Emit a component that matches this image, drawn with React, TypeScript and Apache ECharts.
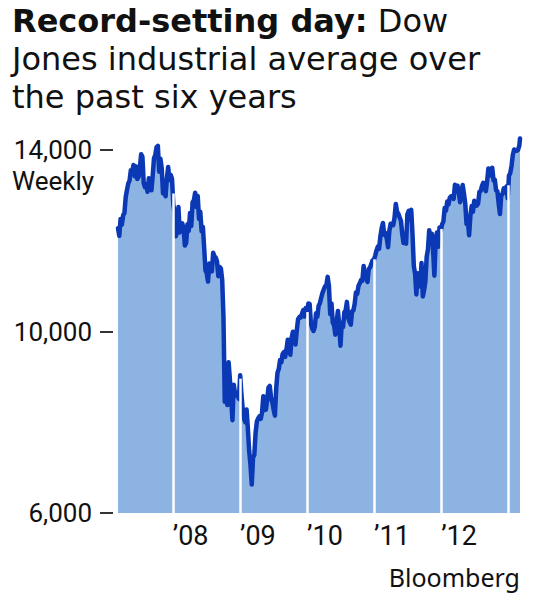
import React, { useEffect, useRef } from 'react';
import * as echarts from 'echarts';

// Weekly closes of the Dow Jones industrial average
const startDate = '2007-03-09';
const w2007 = [12276, 12110, 12481, 12354, 12560, 12612, 12961, 13120, 13264, 13326, 13556, 13507, 13668, 13424, 13639, 13360, 13408, 13611, 13907, 13851, 13265, 13181, 13239, 13079, 13378, 13358, 13113, 13442, 13820, 13896, 14066, 14093, 13522, 13806, 13595, 13042, 13176, 12980, 13372, 13625, 13339, 13450, 13366];
const w2008 = [12800, 12606, 12099, 12207, 12743, 12182, 12348, 12381, 12266, 11894, 11951, 12361, 12216, 12609, 12325, 12849, 12891, 13058, 12745, 12986, 12480, 12638, 12209, 12307, 11843, 11346, 11288, 11100, 11496, 11370, 11326, 11734, 11659, 11628, 11543, 11220, 11421, 11388, 11143, 10325, 8451, 8852, 8378, 9325, 8943, 8497, 8046, 8829, 8635, 8629, 8579, 8515];
const w2009 = [9034, 8599, 8281, 8077, 8000, 8280, 7850, 7366, 7063, 6627, 7224, 7279, 7776, 8018, 8083, 8131, 8076, 8212, 8575, 8268, 8277, 8500, 8764, 8799, 8540, 8438, 8280, 8146, 8743, 9093, 9172, 9370, 9321, 9505, 9544, 9441, 9605, 9820, 9665, 9488, 9865, 9996, 9972, 9713, 10023, 10270, 10318, 10310, 10388, 10471, 10329, 10520, 10428];
const w2010 = [10618, 10610, 10173, 10067, 10012, 10099, 10402, 10325, 10567, 10625, 10742, 10851, 10927, 10997, 11019, 11204, 11009, 10380, 10620, 10193, 10137, 9931, 10211, 10450, 10144, 9686, 10198, 10097, 10424, 10466, 10653, 10303, 10213, 10150, 10448, 10462, 10607, 10860, 10829, 11006, 11062, 11133, 11118, 11444, 11192, 11204, 11092, 11382, 11410, 11491, 11573, 11578];
const w2011 = [11674, 11787, 11871, 11823, 12092, 12273, 12391, 12130, 12169, 12044, 11858, 12220, 12376, 12380, 12342, 12505, 12811, 12638, 12596, 12512, 12441, 12151, 11952, 12004, 11934, 12582, 12657, 12480, 12681, 12143, 11445, 11270, 10818, 11285, 11240, 10993, 11510, 10771, 10913, 11104, 11645, 11809, 12232, 11984, 12154, 11796, 11231, 12019, 12184, 11867, 12294, 12218];
const w2012 = [12360, 12422, 12720, 12660, 12862, 12801, 12950, 12983, 12978, 12922, 13233, 13081, 13212, 13060, 12850, 13029, 13228, 13038, 12821, 12369, 12454, 12119, 12554, 12767, 12640, 12880, 12772, 12777, 12822, 13076, 13096, 13208, 13275, 13158, 13091, 13306, 13593, 13579, 13437, 13610, 13329, 13344, 13107, 13093, 12815, 12588, 13010, 13026, 13155, 13135, 13191, 12938];
const w2013 = [13435, 13488, 13650, 13896, 14010, 13993, 13982, 14001, 14090];
const recordDate = '2013-03-05';
const recordValue = 14254;

const yearStarts = ['2008-01-01', '2009-01-01', '2010-01-01', '2011-01-01', '2012-01-01', '2013-01-01'];
const yearLabels = ['2008-01-01', '2009-01-01', '2010-01-01', '2011-01-01', '2012-01-01'];
const yTicks = [6000, 10000, 14000];

const titleBold = 'Record-setting day:';
const titleRest = [' Dow', 'Jones industrial average over', 'the past six years'];
const unitLabel = 'Weekly';
const sourceLabel = 'Bloomberg';

const DAY = 86400000;
const ts = (d: string) => Date.parse(d + 'T00:00:00Z');

function buildPoints(): [number, number][] {
  const all = [...w2007, ...w2008, ...w2009, ...w2010, ...w2011, ...w2012, ...w2013];
  const t0 = ts(startDate);
  const pts: [number, number][] = all.map((v, i) => [t0 + i * 7 * DAY, v]);
  pts.push([ts(recordDate), recordValue]);
  return pts;
}

function valueAt(pts: [number, number][], t: number): number {
  for (let i = 1; i < pts.length; i++) {
    if (pts[i][0] >= t) {
      const [t1, v1] = pts[i - 1];
      const [t2, v2] = pts[i];
      return v1 + ((v2 - v1) * (t - t1)) / (t2 - t1);
    }
  }
  return pts[pts.length - 1][1];
}

const TITLE_FONT = 'DejaVu Sans';
const LABEL_FONT = 'Roboto';
const SOURCE_FONT = 'Noto Sans';
const INK = '#111111';

export default function App() {
  const ref = useRef<HTMLDivElement>(null);
  useEffect(() => {
    if (!ref.current) return;
    const chart = echarts.init(ref.current, undefined, { renderer: 'svg' });
    const pts = buildPoints();
    const tStart = pts[0][0];
    const tEnd = pts[pts.length - 1][0];
    chart.setOption({
      animation: false,
      grid: { left: 118, right: 26, top: 131.85, bottom: 87 },
      xAxis: {
        type: 'value',
        min: tStart,
        max: tEnd,
        axisLine: { show: false },
        axisTick: { show: false },
        splitLine: { show: false },
        axisLabel: {
          customValues: yearLabels.map(ts),
          formatter: (v: number) => '\u2019' + String(new Date(v).getUTCFullYear()).slice(2),
          align: 'left',
          margin: 9,
          fontSize: 27,
          fontFamily: LABEL_FONT,
          color: INK,
        },
      },
      yAxis: {
        type: 'value',
        min: 6000,
        max: 14400,
        offset: 5,
        axisLine: { show: false },
        splitLine: { show: false },
        axisTick: {
          show: true,
          length: 13,
          customValues: yTicks,
          lineStyle: { color: '#333', width: 2 },
        },
        axisLabel: {
          customValues: yTicks,
          formatter: (v: number) => v.toLocaleString('en-US'),
          margin: 21,
          fontSize: 26,
          fontFamily: LABEL_FONT,
          color: INK,
        },
      },
      series: [
        {
          type: 'line',
          data: pts,
          symbol: 'none',
          showSymbol: false,
          lineStyle: { width: 0, opacity: 0 },
          areaStyle: { color: '#8db3e3', opacity: 1, origin: 'start' },
          z: 2,
          silent: true,
          markLine: {
            silent: true,
            symbol: ['none', 'none'],
            label: { show: false },
            lineStyle: { color: '#ffffff', width: 2.5, type: 'solid' },
            data: yearStarts.map((d) => {
              const t = ts(d);
              return [{ coord: [t, 6000] }, { coord: [t, valueAt(pts, t)] }];
            }),
          },
        },
        {
          type: 'line',
          data: pts,
          symbol: 'none',
          showSymbol: false,
          lineStyle: { width: 4.5, color: '#0b38b5', join: 'round', cap: 'round' },
          z: 3,
          silent: true,
        },
      ],
      graphic: [
        {
          type: 'text',
          left: 12,
          top: 4.9,
          style: {
            text:
              '{b|' + titleBold + '}{r|' + titleRest[0] + '}\n{r|' + titleRest[1] + '}\n{r|' + titleRest[2] + '}',
            rich: {
              b: { fontFamily: TITLE_FONT, fontSize: 32, fontWeight: 'bold', fill: INK, lineHeight: 38 },
              r: { fontFamily: TITLE_FONT, fontSize: 32, fontWeight: 'normal', fill: INK, lineHeight: 38 },
            },
          },
        },
        {
          type: 'text',
          left: 12,
          top: 168,
          style: { text: unitLabel, fontFamily: LABEL_FONT, fontSize: 26, fill: INK },
        },
        {
          type: 'text',
          right: 26,
          top: 564,
          style: { text: sourceLabel, fontFamily: SOURCE_FONT, fontSize: 25, fill: INK },
        },
      ],
    });
    return () => chart.dispose();
  }, []);
  return (
    <div
      ref={ref}
      style={{ position: 'fixed', left: 0, top: 0, width: 546, height: 600, background: '#fff' }}
    />
  );
}
